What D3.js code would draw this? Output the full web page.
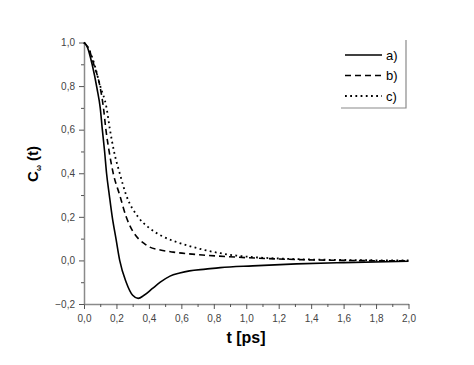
<!DOCTYPE html>
<html>
<head>
<meta charset="utf-8">
<script src="https://cdn.jsdelivr.net/npm/d3@7"></script>
<style>
  body { margin: 0; background: #fff; }
  text { font-family: "Liberation Sans", Arial, sans-serif; }
</style>
</head>
<body>
<div id="chart"></div>
<script>
// curve values (t in ps, C(t))
const tA = [0, 0.02, 0.05, 0.08, 0.10, 0.113, 0.127, 0.139, 0.156, 0.174, 0.197, 0.22, 0.26, 0.30, 0.334, 0.37, 0.42, 0.47, 0.53, 0.59, 0.65, 0.75, 0.84, 1.04, 1.31, 1.6, 2.0];
const cA = [1.0, 0.98, 0.90, 0.79, 0.70, 0.60, 0.50, 0.40, 0.30, 0.20, 0.10, 0.0, -0.10, -0.16, -0.174, -0.16, -0.13, -0.10, -0.072, -0.058, -0.048, -0.040, -0.033, -0.025, -0.016, -0.010, -0.004];

const tB = [0, 0.03, 0.06, 0.098, 0.12, 0.135, 0.155, 0.18, 0.22, 0.26, 0.30, 0.335, 0.37, 0.405, 0.47, 0.55, 0.73, 0.94, 1.31, 1.6, 2.0];
const cB = [1.0, 0.97, 0.90, 0.80, 0.70, 0.60, 0.50, 0.40, 0.30, 0.20, 0.135, 0.10, 0.078, 0.061, 0.048, 0.038, 0.025, 0.015, 0.004, 0.0, -0.002];

const tC = [0, 0.03, 0.06, 0.10, 0.139, 0.16, 0.185, 0.22, 0.26, 0.333, 0.40, 0.48, 0.56, 0.65, 0.73, 0.84, 0.94, 1.31, 1.6, 2.0];
const cC = [1.0, 0.97, 0.91, 0.80, 0.70, 0.60, 0.50, 0.40, 0.30, 0.20, 0.15, 0.112, 0.087, 0.066, 0.050, 0.033, 0.022, 0.006, 0.002, 0.0];

const seriesNames = ['a)', 'b)', 'c)'];
const xTicks = [0, 0.2, 0.4, 0.6, 0.8, 1.0, 1.2, 1.4, 1.6, 1.8, 2.0];
const yTicks = [-0.2, 0, 0.2, 0.4, 0.6, 0.8, 1.0];

const width = 474, height = 365;
const svg = d3.select('#chart').append('svg')
    .attr('width', width)
    .attr('height', height);

const x = d3.scaleLinear().domain([0, 2]).range([84, 408.5]);
const y = d3.scaleLinear().domain([-0.2, 1.0]).range([304, 42.5]);

const fmt = d => d3.format('.1f')(d).replace('.', ',');
const axisColor = '#8a8a8a';

// minor ticks
const xMinor = d3.range(0.1, 2.0, 0.2);
const yMinor = d3.range(-0.1, 1.0, 0.2);

const gx = svg.append('g')
    .attr('transform', `translate(0,${y(-0.2)})`)
    .call(d3.axisBottom(x).tickValues(xTicks).tickFormat(fmt).tickSize(5).tickSizeOuter(0));
svg.append('g')
    .attr('transform', `translate(0,${y(-0.2)})`)
    .call(d3.axisBottom(x).tickValues(xMinor).tickFormat('').tickSize(3).tickSizeOuter(0))
    .select('.domain').remove();

const gy = svg.append('g')
    .attr('transform', `translate(${x(0)},0)`)
    .call(d3.axisLeft(y).tickValues(yTicks).tickFormat(fmt).tickSize(5).tickSizeOuter(0));
svg.append('g')
    .attr('transform', `translate(${x(0)},0)`)
    .call(d3.axisLeft(y).tickValues(yMinor).tickFormat('').tickSize(3).tickSizeOuter(0))
    .select('.domain').remove();

svg.selectAll('.domain').attr('stroke', axisColor).attr('stroke-width', 1.5);
svg.selectAll('.tick line').attr('stroke', '#555').attr('stroke-width', 1);
gx.selectAll('.tick text').attr('font-size', 10).attr('fill', '#444').attr('dy', '0.95em');
gy.selectAll('.tick text').attr('font-size', 10).attr('fill', '#444').attr('dx', '-0.1em');

// axis titles
svg.append('text')
    .attr('x', 246).attr('y', 343)
    .attr('text-anchor', 'middle')
    .attr('font-size', 16).attr('font-weight', 'bold')
    .text('t [ps]');

const yl = svg.append('text')
    .attr('transform', 'translate(38,164) rotate(-90)')
    .attr('text-anchor', 'middle')
    .attr('font-size', 15).attr('font-weight', 'bold');
yl.append('tspan').text('C');
yl.append('tspan').attr('font-size', 7).attr('dy', 3).text('ω');
yl.append('tspan').attr('dy', -3).text(' (t)');

// curves
const styles = [
    { dash: null, w: 1.6 },
    { dash: '6,4', w: 1.6 },
    { dash: '1.8,3.4', w: 1.8 }
];
const data = [
    tA.map((t, i) => [t, cA[i]]),
    tB.map((t, i) => [t, cB[i]]),
    tC.map((t, i) => [t, cC[i]])
];
const line = d3.line()
    .x(d => x(d[0]))
    .y(d => y(d[1]))
    .curve(d3.curveMonotoneX);

svg.append('g').selectAll('path')
    .data(data)
    .enter()
    .append('path')
    .attr('d', line)
    .attr('fill', 'none')
    .attr('stroke', '#000')
    .attr('stroke-width', (d, i) => styles[i].w)
    .attr('stroke-dasharray', (d, i) => styles[i].dash);

// legend (only right and bottom edges visible)
const lg = svg.append('g');
lg.append('path')
    .attr('d', 'M406,40 V108 H341')
    .attr('fill', 'none')
    .attr('stroke', axisColor)
    .attr('stroke-width', 1.2);
seriesNames.forEach((name, i) => {
    const ly = 55 + i * 20.5;
    lg.append('line')
        .attr('x1', 345).attr('x2', 382)
        .attr('y1', ly).attr('y2', ly)
        .attr('stroke', '#000')
        .attr('stroke-width', styles[i].w)
        .attr('stroke-dasharray', styles[i].dash);
    lg.append('text')
        .attr('x', 386).attr('y', ly + 4.5)
        .attr('font-size', 13)
        .text(name);
});
</script>
</body>
</html>
